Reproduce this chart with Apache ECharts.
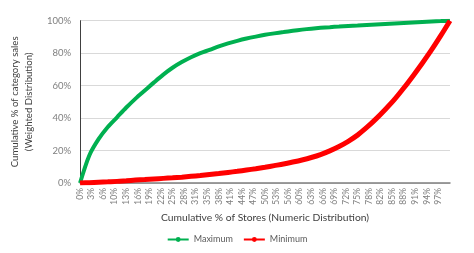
<!DOCTYPE html>
<html>
<head>
<meta charset="utf-8">
<script src="https://cdn.jsdelivr.net/npm/echarts@6/dist/echarts.min.js"></script>
<style>
html,body{margin:0;padding:0;background:#fff;}
#chart{width:474px;height:253px;}
</style>
</head>
<body>
<div id="chart"></div>
<script>
// Cumulative % of stores (x) and cumulative % of category sales (y)
const storesPct = [0, 2.5, 5, 7.5, 10, 12.5, 15, 17.5, 20, 22.5, 25, 27.5, 30, 32.5, 35, 37.5, 40, 42.5, 45, 47.5, 50, 52.5, 55, 57.5, 60, 62.5, 65, 67.5, 70, 72.5, 75, 77.5, 80, 82.5, 85, 87.5, 90, 92.5, 95, 97.5, 100];
const maximumVals = [0, 17, 27, 34.5, 40.5, 46.5, 52, 57, 62, 66.8, 71, 74.5, 77.5, 80, 82, 84.2, 86, 87.6, 89, 90.2, 91.3, 92.2, 93, 93.8, 94.5, 95.1, 95.6, 96, 96.4, 96.8, 97.1, 97.4, 97.7, 98, 98.3, 98.6, 98.9, 99.2, 99.5, 99.75, 100];
const minimumVals = [0, 0.2, 0.5, 0.75, 1, 1.4, 1.8, 2.1, 2.5, 2.85, 3.2, 3.6, 4.1, 4.6, 5.2, 5.8, 6.5, 7.2, 8, 8.8, 9.7, 10.7, 11.7, 12.9, 14.2, 15.7, 17.5, 19.8, 22.5, 25.7, 29.5, 34.2, 39.5, 45.3, 51.5, 58.5, 66, 73.8, 82, 90.8, 100];

const xTickValues = [0, 3.125, 6.25, 9.375, 12.5, 15.625, 18.75, 21.875, 25, 28.125, 31.25, 34.375, 37.5, 40.625, 43.75, 46.875, 50, 53.125, 56.25, 59.375, 62.5, 65.625, 68.75, 71.875, 75, 78.125, 81.25, 84.375, 87.5, 90.625, 93.75, 96.875];
const xTickLabels = ['0%','3%','6%','10%','13%','16%','19%','22%','25%','28%','31%','35%','38%','41%','44%','47%','50%','53%','56%','60%','63%','66%','69%','72%','75%','78%','82%','85%','88%','91%','94%','97%'];
const yTickValues = [0, 20, 40, 60, 80, 100];

const FONT = 'Lato';
const pair = (ys) => storesPct.map((x, i) => [x, ys[i]]);

const chart = echarts.init(document.getElementById('chart'), null, {renderer: 'canvas'});
chart.setOption({
  animation: false,
  textStyle: {fontFamily: FONT},
  grid: {left: 70, right: 24, top: 20.7, bottom: 70, containLabel: false},
  legend: {
    bottom: 4, left: 'center',
    itemWidth: 21, itemHeight: 6, itemGap: 10,
    textStyle: {fontSize: 9, color: '#595959', fontFamily: FONT},
    data: ['Maximum', 'Minimum']
  },
  xAxis: {
    type: 'value', min: 0, max: 100,
    name: 'Cumulative % of Stores (Numeric Distribution)',
    nameLocation: 'middle', nameGap: 30,
    nameTextStyle: {fontSize: 10.3, color: '#404040', fontFamily: FONT},
    axisLine: {show: true, lineStyle: {color: '#7f7f7f', width: 1.5}},
    axisTick: {show: false},
    splitLine: {show: false},
    axisLabel: {
      customValues: xTickValues,
      rotate: 90, fontSize: 8.5, color: '#7f7f7f', margin: 5,
      formatter: (v) => { const i = xTickValues.indexOf(v); return i >= 0 ? xTickLabels[i] : ''; }
    }
  },
  yAxis: {
    type: 'value', min: 0, max: 100, interval: 20,
    name: 'Cumulative % of category sales\n(Weighted Distribution)',
    nameLocation: 'middle', nameGap: 40,
    nameTextStyle: {fontSize: 9.6, color: '#404040', lineHeight: 14, fontFamily: FONT},
    axisLine: {show: true, lineStyle: {color: '#404040', width: 1}},
    axisTick: {show: false},
    splitLine: {show: true, lineStyle: {color: '#d9d9d9', width: 1}},
    axisLabel: {
      fontSize: 9.5, color: '#7f7f7f', margin: 9,
      formatter: (v) => yTickValues.indexOf(v) >= 0 ? v + '%' : ''
    }
  },
  series: [
    {
      name: 'Maximum', type: 'line', data: pair(maximumVals),
      smooth: 0.3,
      symbol: 'circle', symbolSize: 6, showSymbol: false,
      lineStyle: {color: '#00b050', width: 4},
      itemStyle: {color: '#00b050'}
    },
    {
      name: 'Minimum', type: 'line', data: pair(minimumVals),
      smooth: 0.3,
      symbol: 'circle', symbolSize: 6, showSymbol: false,
      lineStyle: {color: '#ff0000', width: 5},
      itemStyle: {color: '#ff0000'}
    }
  ]
});
</script>
</body>
</html>
